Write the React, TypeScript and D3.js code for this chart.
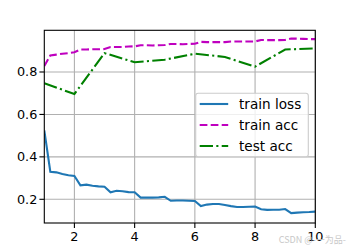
import React from "react";
import * as d3 from "d3";

const epochsFine: number[] = [
  1.0, 1.2, 1.4, 1.6, 1.8, 2.0, 2.2, 2.4, 2.6, 2.8, 3.0, 3.2, 3.4, 3.6, 3.8, 4.0,
  4.2, 4.4, 4.6, 4.8, 5.0, 5.2, 5.4, 5.6, 5.8, 6.0, 6.2, 6.4, 6.6, 6.8, 7.0,
  7.2, 7.4, 7.6, 7.8, 8.0, 8.2, 8.4, 8.6, 8.8, 9.0, 9.2, 9.4, 9.6, 9.8, 10.0,
];
const trainLoss: number[] = [
  0.525, 0.330, 0.327, 0.319, 0.313, 0.310, 0.266, 0.269, 0.264, 0.261, 0.259,
  0.233, 0.240, 0.238, 0.234, 0.233, 0.208, 0.208, 0.208, 0.209, 0.212,
  0.193, 0.194, 0.194, 0.193, 0.192, 0.168, 0.175, 0.178, 0.178, 0.173,
  0.168, 0.164, 0.164, 0.165, 0.166, 0.153, 0.150, 0.151, 0.151, 0.154,
  0.135, 0.137, 0.139, 0.140, 0.142,
];
const trainAcc: number[] = [
  0.828, 0.878, 0.882, 0.886, 0.889, 0.893, 0.906, 0.906, 0.907, 0.907, 0.908,
  0.918, 0.918, 0.918, 0.920, 0.921, 0.926, 0.926, 0.925, 0.926, 0.927,
  0.932, 0.932, 0.931, 0.932, 0.933, 0.942, 0.941, 0.941, 0.941, 0.941,
  0.944, 0.944, 0.944, 0.944, 0.944, 0.951, 0.950, 0.950, 0.950, 0.951,
  0.958, 0.957, 0.956, 0.955, 0.955,
];
const epochs: number[] = [1, 2, 3, 4, 5, 6, 7, 8, 9, 10];
const testAcc: number[] = [0.747, 0.696, 0.889, 0.846, 0.858, 0.886, 0.871, 0.825, 0.906, 0.911];
const xTicks: number[] = [2, 4, 6, 8, 10];
const yTicks: number[] = [0.2, 0.4, 0.6, 0.8];
const legendLabels: string[] = ["train loss", "train acc", "test acc"];

const W = 350;
const H = 250;
const L = 44.3;
const R = 315.3;
const T = 30.3;
const B = 223;
const FONT = "'DejaVu Sans', sans-serif";

export default function App() {
  const x = d3.scaleLinear().domain([1, 10]).range([L, R]);
  const y = d3.scaleLinear().domain([0.0883, 0.9965]).range([B, T]);
  const line = d3
    .line<[number, number]>()
    .x((d) => x(d[0]))
    .y((d) => y(d[1]));
  const lossPts = epochsFine.map((e, i) => [e, trainLoss[i]] as [number, number]);
  const accPts = epochsFine.map((e, i) => [e, trainAcc[i]] as [number, number]);
  const testPts = epochs.map((e, i) => [e, testAcc[i]] as [number, number]);

  const series = [
    { label: legendLabels[0], color: "#1f77b4", dash: "none", pts: lossPts },
    { label: legendLabels[1], color: "#bf00bf", dash: "7.7,3.3", pts: accPts },
    { label: legendLabels[2], color: "#008000", dash: "13.3,3.3,2.1,3.3", pts: testPts },
  ];

  const lgX = 195.7;
  const lgY = 93.3;
  const lgW = 112.6;
  const lgH = 63.4;
  const rowY = [104, 125, 146];

  return (
    <svg
      width={W}
      height={H}
      style={{ position: "absolute", left: 0, top: 0, background: "#fff" }}
    >
      <defs>
        <clipPath id="plotclip">
          <rect x={L} y={T} width={R - L} height={B - T} />
        </clipPath>
      </defs>
      {/* grid */}
      {xTicks.map((t) => (
        <line key={"gx" + t} x1={x(t)} x2={x(t)} y1={T} y2={B} stroke="#b0b0b0" strokeWidth={1.1} />
      ))}
      {yTicks.map((t) => (
        <line key={"gy" + t} x1={L} x2={R} y1={y(t)} y2={y(t)} stroke="#b0b0b0" strokeWidth={1.1} />
      ))}
      {/* lines */}
      <g clipPath="url(#plotclip)">
        {series.map((s) => (
          <path
            key={s.label}
            d={line(s.pts) || ""}
            fill="none"
            stroke={s.color}
            strokeWidth={2.1}
            strokeDasharray={s.dash}
          />
        ))}
      </g>
      {/* spines */}
      <rect x={L} y={T} width={R - L} height={B - T} fill="none" stroke="#000" strokeWidth={1.1} />
      {/* ticks */}
      {xTicks.map((t) => (
        <g key={"tx" + t}>
          <line x1={x(t)} x2={x(t)} y1={B} y2={B + 4.9} stroke="#000" strokeWidth={1.1} />
          <text
            x={x(t)}
            y={B + 8.5}
            textAnchor="middle"
            dominantBaseline="hanging"
            fontFamily={FONT}
            fontSize={12.8}
            fill="#000"
          >
            {t}
          </text>
        </g>
      ))}
      {yTicks.map((t) => (
        <g key={"ty" + t}>
          <line x1={L - 4.9} x2={L} y1={y(t)} y2={y(t)} stroke="#000" strokeWidth={1.1} />
          <text
            x={L - 7}
            y={y(t)}
            textAnchor="end"
            dominantBaseline="central"
            fontFamily={FONT}
            fontSize={12.8}
            fill="#000"
          >
            {t.toFixed(1)}
          </text>
        </g>
      ))}
      {/* legend */}
      <rect
        x={lgX}
        y={lgY}
        width={lgW}
        height={lgH}
        rx={2.5}
        fill="#fff"
        fillOpacity={0.8}
        stroke="#cccccc"
        strokeWidth={1.1}
      />
      {series.map((s, i) => (
        <g key={"lg" + i}>
          <line
            x1={lgX + 4}
            x2={lgX + 32.5}
            y1={rowY[i]}
            y2={rowY[i]}
            stroke={s.color}
            strokeWidth={2.1}
            strokeDasharray={s.dash}
          />
          <text
            x={239}
            y={rowY[i]}
            dominantBaseline="central"
            fontFamily={FONT}
            fontSize={13.6}
            fill="#000"
          >
            {s.label}
          </text>
        </g>
      ))}
      {/* watermark */}
      <text
        x={346}
        y={243}
        textAnchor="end"
        fontFamily="'Noto Sans CJK SC', sans-serif"
        fontSize={9}
        fill="#c8c8c8"
      >
        CSDN @-一为品-
      </text>
    </svg>
  );
}
